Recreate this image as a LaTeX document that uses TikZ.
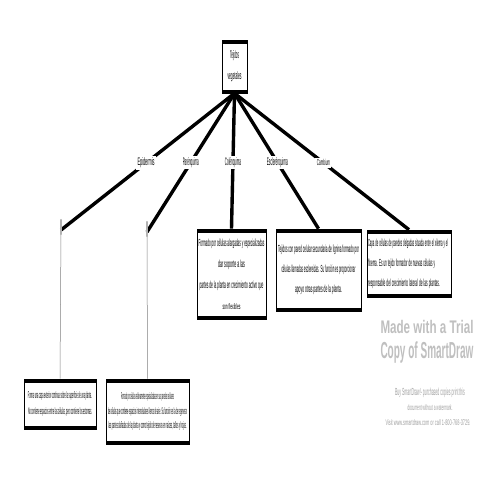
\documentclass[tikz,border=0pt]{standalone}
\usepackage{fontspec}
\setmainfont{Liberation Sans}
\usepackage{graphicx}
\newcommand{\fl}[2]{\resizebox{#1pt}{\totalheight}{#2}}
\begin{document}
\begin{tikzpicture}[x=1pt,y=-1pt,
  tbox/.style={draw=black, line width=0.6pt, fill=white, inner sep=1pt,
    font=\fontsize{8}{20}\selectfont, align=center,
    path picture={\draw[line width=7pt] (path picture bounding box.north west) -- (path picture bounding box.north east)
      (path picture bounding box.south west) -- (path picture bounding box.south east);}},
  conn/.style={line width=3.4pt, black},
  thinconn/.style={line width=0.5pt, gray},
  lab/.style={fill=white, inner sep=1.5pt, font=\fontsize{8.5}{9}\selectfont},
  wm/.style={text=gray!55, inner sep=0pt}]
\useasboundingbox (0,0) rectangle (480,480);

\node[tbox, minimum width=25, minimum height=53, font=\fontsize{8.5}{21}\selectfont] (root) at (234.5,66.5)
  {\fl{9}{Tejidos}\\ \fl{14}{vegetales}};

\node[tbox, minimum width=72, minimum height=50, font=\fontsize{7.5}{16}\selectfont] (epi) at (60,404)
  {\fl{64}{Forma una capa exterior continua sobre la superficie de una planta.}\\
   \fl{64}{No contiene espacios entre las células, pero contiene los estomas.}};

\node[tbox, minimum width=83, minimum height=65, font=\fontsize{7.5}{14.5}\selectfont] (par) at (147.5,411.5)
  {\fl{53}{Formado por células relativamente especializadas en sus paredes celulares}\\
   \fl{79}{de células que contiene espacios intercelulares llenos de aire. Su función es la de regenerar}\\
   \fl{78}{las partes dañadas de la planta y como tejido de reserva en raíces, tallos y hojas.}};

\node[tbox, minimum width=69, minimum height=90, font=\fontsize{8}{21}\selectfont] (col) at (231.5,274)
  {\fl{66}{Formado por células alargadas y especializadas}\\
   \fl{27}{dar soporte a las}\\
   \fl{64}{partes de la planta en crecimiento activo que}\\
   \fl{18}{son flexibles}};

\node[tbox, minimum width=85, minimum height=82] (esc) at (318.5,270)
  {\fl{81}{Tejidos con pared celular secundaria de lignina formado por}\\
   \fl{74}{células llamadas esclereidas. Su función es proporcionar}\\
   \fl{47}{apoyo otras partes de la planta.}};

\node[tbox, minimum width=84, minimum height=67, align=left, text width=82] (cam) at (409,263.5)
  {\fl{80}{Capa de células de paredes delgadas situada entre el xilema y el}\\
   \fl{67}{floema. Es un tejido formador de nuevas células y}\\
   \fl{72}{responsable del crecimiento lateral de las plantas.}};

\coordinate (e1) at (61,230);
\coordinate (e2) at (147,232);

\draw[conn] (root.south) -- node[lab, pos=0.51] (lepi) {\fl{17}{Epidermis}} (e1);
\draw[conn] (root.south) -- node[lab, pos=0.50] (lpar) {\fl{16}{Parénquima}} (e2);
\draw[conn] (root.south) -- node[lab, pos=0.51] (lcol) {\fl{16}{Colénquima}} (col.north);
\draw[conn] (root.south) -- node[lab, pos=0.51] (lesc) {\fl{21}{Esclerénquima}} (esc.north);
\draw[conn] (root.south) -- node[lab, pos=0.51] (lcam) {\fl{13}{Cambium}} (cam.north);

\draw[thinconn] (e1) -- (epi.north);
\draw[thinconn] (e2) -- (par.north);
\draw[gray!60, line width=2.2pt, line cap=round] ([yshift=-4]e1) -- ([yshift=10]e1);
\draw[gray!60, line width=2.2pt, line cap=round] ([yshift=-4]e2) -- ([yshift=10]e2);

\node[wm, text=gray!50, font=\bfseries\fontsize{18}{18}\selectfont] (wm1) at (427,327) {\fl{93}{Made with a Trial}};
\node[wm, text=gray!50, font=\bfseries\fontsize{18}{18}\selectfont] (wm2) at (427,353) {\fl{93}{Copy of SmartDraw}};
\node[wm, text=gray!75, font=\fontsize{8}{8}\selectfont] (wm3) at (430,393) {\fl{70}{Buy SmartDraw!- purchased copies print this}};
\node[wm, text=gray!75, font=\fontsize{8}{8}\selectfont] (wm4) at (430,408) {\fl{45}{document without a watermark.}};
\node[wm, text=gray!75, font=\fontsize{8}{8}\selectfont] (wm5) at (428,423) {\fl{85}{Visit www.smartdraw.com or call 1-800-768-3729.}};
\end{tikzpicture}
\end{document}
